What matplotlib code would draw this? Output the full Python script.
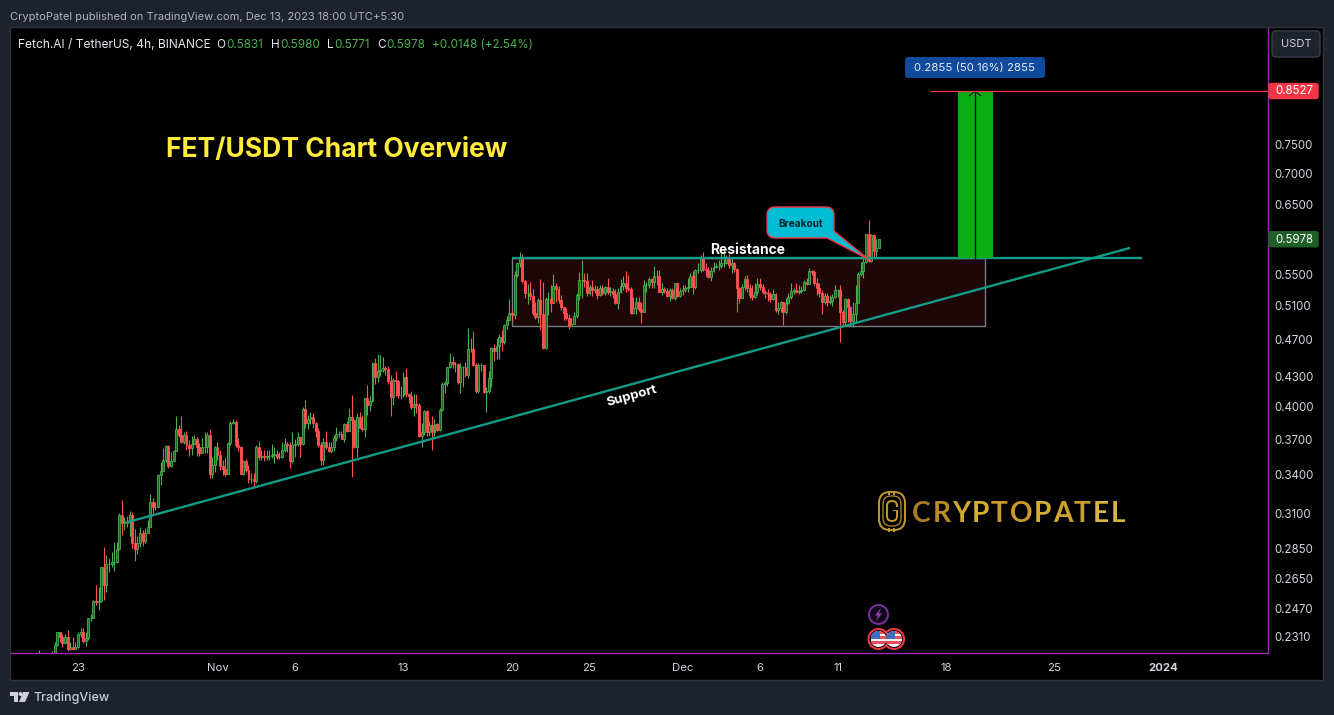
import numpy as np
import pandas as pd
import matplotlib
matplotlib.use("Agg")
import matplotlib.pyplot as plt
import matplotlib.dates as mdates
from matplotlib.patches import FancyBboxPatch, Rectangle, Circle, Polygon, PathPatch
from matplotlib.path import Path
from matplotlib.transforms import Affine2D, IdentityTransform

plt.rcParams['font.family'] = ['Inter', 'DejaVu Sans']

close_a = [.221,.220,.219,.219,.220,.222,.226,.233,.2305,.227,.2305,.224,.225,.224,.225,.232,.233,.228,.230,.241,.241,.251,.2505,.251,.2725,.261,.2745,.2745,.276,.276,.2845,.309,.303,.303,.3035,.309,.2885,.2845,.2885,.296,.290,.296,.300,.3185,.315,.315,.340,.343,.352,.364,.347,.351,.360,.379,.374,.3675,.374,.365,.3625,.366,.370,.363]
high_a = [.2234,.221,.221,.221,.2215,.223,.2277,.233,.233,.232,.232,.2345,.2277,.2305,.2277,.233,.2355,.2355,.233,.241,.2435,.252,.261,.260,.2725,.286,.2805,.2785,.2825,.2895,.2895,.310,.320,.307,.308,.312,.311,.2985,.2935,.300,.298,.299,.305,.3245,.3215,.3185,.3405,.3505,.3625,.365,.365,.359,.361,.391,.383,.391,.3765,.378,.3695,.373,.374,.372]
low_a = [.219,.218,.217,.217,.218,.220,.222,.2257,.2277,.225,.2267,.223,.2234,.224,.224,.2245,.2305,.227,.2257,.229,.2395,.241,.249,.246,.2506,.2518,.2568,.2693,.2725,.270,.275,.284,.294,.298,.300,.2935,.285,.2765,.281,.286,.2866,.289,.297,.300,.310,.3124,.3147,.332,.346,.3505,.3455,.346,.3505,.360,.3724,.3667,.3658,.3607,.3556,.3565,.3658,.3556]

close_b = [.358,.363,.363,.374,.341,.348,.363,.3565,.347,.3445,.341,.367,.385,.386,.365,.363,.341,.351,.344,.3365,.3365,.335,.363,.355,.3555,.355,.3555,.356,.3565,.357,.355,.355,.361,.366,.365,.351,.365,.366,.372,.366,.398,.385,.389,.390,.385,.3775,.365,.352,.3675,.363,.360,.363,.371,.375,.375,.370,.384,.3775,.390,.388,.363,.390,.380,.379,.4085,.402]
high_b = [.367,.371,.3765,.3765,.379,.355,.364,.368,.361,.352,.355,.3675,.387,.389,.388,.371,.364,.352,.353,.348,.3415,.3415,.365,.3685,.361,.361,.361,.361,.366,.3635,.361,.359,.3675,.371,.368,.3675,.3765,.370,.3765,.373,.400,.407,.392,.395,.394,.386,.380,.3675,.371,.3775,.3675,.3675,.374,.381,.378,.3775,.385,.387,.399,.4115,.388,.394,.395,.392,.4085,.4215]
low_b = [.356,.358,.358,.358,.337,.337,.342,.352,.344,.340,.339,.341,.365,.384,.3635,.360,.341,.340,.342,.3335,.3335,.330,.3335,.352,.352,.351,.352,.352,.354,.350,.353,.353,.354,.359,.359,.3455,.350,.355,.364,.355,.365,.380,.379,.384,.380,.372,.3635,.348,.348,.3615,.359,.358,.360,.369,.372,.370,.3675,.3765,.3775,.338,.3625,.355,.380,.378,.372,.392]

close_c = [.4055,.444,.4295,.436,.437,.439,.438,.4255,.410,.4265,.4255,.4115,.4115,.4295,.4125,.4105,.400,.4025,.4015,.373,.3765,.396,.3765,.383,.3765,.384,.3785,.397,.4225,.4235,.440,.4455,.4435,.4435,.4245,.440,.440,.432,.4595,.4595,.442,.4155,.442,.442,.4145,.4155,.4285,.4605,.457,.463,.473,.467,.4865,.4925,.501,.498,.5485,.5645,.5735,.5405,.5255,.5255,.5215,.501,.496,.517]
high_c = [.411,.4455,.4495,.4545,.453,.451,.441,.441,.432,.429,.436,.427,.421,.435,.439,.414,.416,.413,.4125,.404,.385,.397,.397,.387,.391,.389,.385,.399,.425,.426,.4405,.455,.452,.445,.444,.444,.441,.445,.483,.472,.480,.444,.444,.444,.442,.420,.436,.462,.465,.472,.476,.481,.488,.497,.518,.505,.554,.565,.580,.577,.542,.537,.5395,.530,.514,.5195]
low_c = [.396,.405,.423,.425,.431,.435,.432,.423,.391,.402,.411,.409,.408,.410,.410,.404,.398,.391,.394,.372,.3635,.374,.373,.373,.361,.373,.3775,.3775,.396,.4135,.421,.439,.439,.435,.423,.4135,.420,.430,.429,.456,.441,.4135,.414,.436,.4135,.395,.4135,.420,.446,.449,.449,.457,.465,.482,.4915,.4915,.494,.546,.559,.538,.5195,.5115,.517,.498,.494,.489]

close_d = [.4995,.4605,.518,.518,.513,.534,.5305,.517,.508,.501,.495,.4855,.488,.497,.523,.542,.542,.5405,.5255,.533,.529,.5305,.523,.532,.5255,.533,.5265,.528,.524,.513,.5265,.534,.538,.532,.5305,.501,.507,.514,.506,.502,.5355,.5355,.543,.5395,.547,.547,.5265,.5305,.528,.5215,.529,.519,.538,.5215,.528,.529,.532,.533,.547,.533,.555,.555,.5735,.5565,.555,.546]
high_d = [.5435,.5395,.5205,.5265,.536,.550,.538,.534,.523,.5075,.5075,.500,.495,.502,.525,.5525,.569,.551,.551,.536,.542,.536,.534,.536,.536,.534,.545,.533,.532,.5305,.532,.5435,.5475,.554,.549,.533,.5205,.5205,.5205,.514,.542,.5395,.546,.545,.5605,.555,.555,.5385,.533,.532,.532,.532,.5385,.5385,.532,.536,.536,.545,.551,.554,.557,.565,.575,.580,.565,.559]
low_d = [.481,.4595,.4595,.498,.502,.513,.514,.513,.5045,.4925,.4925,.482,.487,.490,.495,.517,.5195,.533,.522,.523,.522,.5255,.518,.522,.523,.523,.524,.522,.5195,.5115,.5055,.5255,.529,.5265,.528,.4995,.500,.4995,.5035,.489,.502,.5265,.532,.532,.532,.536,.5265,.523,.5255,.5205,.516,.518,.517,.5205,.5205,.523,.5265,.5265,.533,.524,.5305,.551,.5525,.554,.5475,.545]

close_e = [.5535,.559,.5605,.5605,.5645,.5645,.573,.562,.5645,.5565,.532,.519,.533,.5435,.532,.523,.5205,.5265,.537,.533,.5265,.5255,.524,.518,.524,.5045,.507,.514,.502,.513,.5205,.528,.529,.5265,.528,.529,.5395,.537,.554,.5525,.538,.532,.5255,.514,.522,.514,.516,.5205,.529,.529,.502,.490,.518,.508,.4915,.500,.513,.550,.554,.566,.605,.567,.604,.581,.585,.5978]
high_e = [.559,.5665,.565,.569,.580,.582,.576,.577,.5735,.5665,.558,.533,.537,.5475,.549,.537,.536,.5385,.545,.545,.537,.529,.530,.5265,.530,.525,.514,.516,.514,.5195,.525,.5385,.532,.5385,.536,.534,.542,.545,.558,.555,.555,.545,.5385,.529,.525,.525,.523,.524,.536,.530,.536,.5045,.5195,.5195,.510,.514,.536,.5525,.5665,.572,.606,.626,.605,.606,.598,.598]
low_e = [.541,.5525,.558,.555,.558,.559,.563,.558,.551,.5525,.502,.513,.5195,.529,.5265,.5195,.517,.5195,.523,.529,.524,.5195,.516,.514,.517,.502,.500,.502,.4865,.500,.5115,.518,.524,.525,.524,.525,.528,.536,.537,.549,.536,.523,.5205,.500,.5115,.510,.5115,.509,.5195,.5205,.467,.486,.486,.490,.4855,.484,.490,.523,.5475,.545,.565,.5665,.5665,.572,.572,.585]

closes = np.array(close_a + close_b + close_c + close_d + close_e)
highs = np.array(high_a + high_b + high_c + high_d + high_e)
lows = np.array(low_a + low_b + low_c + low_d + low_e)
opens = np.r_[closes[0], closes[:-1]]

price_ticks = [.7500, .7000, .6500, .5500, .5100, .4700, .4300, .4000, .3700, .3400, .3100, .2850, .2650, .2470, .2310]
date_ticks = ['2023-10-23', '2023-11-01', '2023-11-06', '2023-11-13', '2023-11-20', '2023-11-25', '2023-12-01',
              '2023-12-06', '2023-12-11', '2023-12-18', '2023-12-25', '2024-01-01']
date_labels = ['23', 'Nov', '6', '13', '20', '25', 'Dec', '6', '11', '18', '25', '2024']

target_price = .8527
last_price = .5978
resistance = .571
box_floor = .4855
support_start, support_end = .303, .5855

W, H = 1334, 715
BG, GREEN, RED = '#1e222d', '#4caf50', '#ff5252'
TXT = '#d1d4dc'
fig = plt.figure(figsize=(W / 100, H / 100), dpi=100, facecolor=BG)
PX = Affine2D().scale(1, -1).translate(0, H)  # pixel coordinates, y down


def T(x, y, s, **kw):
    return fig.text(x / W, 1 - y / H, s, **kw)


def add(p):
    fig.add_artist(p)
    return p


# Black chart panel with its border
add(Rectangle((10, 27), 1313, 653, transform=PX, fc='black', ec='#2f333e', lw=1, zorder=0))

ax = fig.add_axes([11 / W, 1 - 653 / H, (1268 - 11) / W, (653 - 28) / H], facecolor='none')
ax.set_yscale('log')
base = mdates.date2num(pd.Timestamp('2023-10-23'))
ax.set_xlim(base - 4.32, base + 76.77)
ax.set_ylim(.2218, .9917)


def day(n):
    return base + n


t = mdates.date2num(pd.date_range('2023-10-20 12:00', periods=len(closes), freq='4h'))
up = closes >= opens
w = 0.125
ax.vlines(t[up], lows[up], highs[up], color=GREEN, lw=0.8, zorder=3)
ax.vlines(t[~up], lows[~up], highs[~up], color=RED, lw=0.8, zorder=3)
ax.bar(t[up], (closes - opens)[up], bottom=opens[up], width=w, fc='#1d6a23', ec=GREEN, lw=0.6, zorder=4)
ax.bar(t[~up], (opens - closes)[~up], bottom=closes[~up], width=w, fc=RED, ec=RED, lw=0.6, zorder=4)

# Range box, trend lines and projection
ax.add_patch(Rectangle((day(28), box_floor), 30.5, resistance - box_floor, fc=(0.95, 0.21, 0.27, 0.13), ec='none', zorder=1))
ax.add_patch(Rectangle((day(28), box_floor), 30.5, resistance - box_floor, fc='none', ec='#787b86', lw=1, zorder=2))
ax.plot([day(28), day(68.65)], [resistance, resistance], color='#119c87', lw=1.7, zorder=5, solid_capstyle='butt')
ax.plot([day(3.03), day(67.87)], [support_start, support_end], color='#119c87', lw=1.7, zorder=5, solid_capstyle='butt')
ax.add_patch(Rectangle((day(56.77), resistance), 2.26, target_price - resistance, fc='#0aad14', ec='none', zorder=5))
ax.plot([day(57.87)] * 2, [resistance, target_price], color='black', lw=0.9, zorder=6)
ax.plot([day(57.5), day(57.87), day(58.24)], [.843, target_price, .843], color='black', lw=0.7, zorder=6)
ax.plot([day(54.97), day(76.77)], [target_price] * 2, color='#f23645', lw=0.9, zorder=6, solid_capstyle='butt')

ax.text(day(43.2), .5825, 'Resistance', color='white', fontsize=10, fontweight='bold', ha='center', va='center', zorder=8)
ax.text(day(35.7), .4105, 'Support', color='white', fontsize=9.5, fontweight='bold', ha='center', va='center',
        rotation=15.4, rotation_mode='anchor', zorder=8)

# Axes
for s in ('top', 'left'):
    ax.spines[s].set_visible(False)
for s in ('right', 'bottom'):
    ax.spines[s].set_color('#9c27b0')
    ax.spines[s].set_linewidth(1)
ax.yaxis.tick_right()
ax.minorticks_off()
ax.set_yticks(price_ticks)
ax.set_yticklabels([f'{p:.4f}' for p in price_ticks])
ax.tick_params(axis='y', length=0, pad=4.8, labelsize=8.3, labelcolor=TXT, which='both')
ax.yaxis.set_minor_locator(matplotlib.ticker.NullLocator())
ax.set_xticks(mdates.date2num(pd.to_datetime(date_ticks)))
ax.set_xticklabels(date_labels)
ax.tick_params(axis='x', length=0, pad=7, labelsize=8.2, labelcolor=TXT)
ax.get_xticklabels()[-1].set_fontweight('bold')

fig.canvas.draw()


def tag(price, color, label):
    y = ax.transData.transform((0, price))[1]
    add(FancyBboxPatch((1269, y - 7.5), 49, 15, boxstyle='round,pad=0,rounding_size=2', transform=IdentityTransform(),
                       fc=color, ec=color, lw=1, zorder=9, clip_on=False))
    fig.text(1294.5 / W, (y - 0.3) / H, label, color='white', fontsize=8.3, ha='center', va='center', zorder=10)


tag(target_price, '#f23645', f'{target_price:.4f}')
tag(last_price, '#1f5f28', f'{last_price:.4f}')

# USDT button
add(FancyBboxPatch((1272, 31), 48, 26, boxstyle='round,pad=0,rounding_size=4', transform=PX, fc=BG, ec='#3a3e4a', lw=1, zorder=5))
T(1296, 44, 'USDT', color=TXT, fontsize=8, ha='center', va='center', zorder=6)

# Header and legend
T(10, 17, 'CryptoPatel published on TradingView.com, Dec 13, 2023 18:00 UTC+5:30', color='#b2b5be', fontsize=8.0, va='center')
T(17.5, 45, 'Fetch.AI / TetherUS, 4h, BINANCE', color='#e6e8ee', fontsize=8.6, va='center')
for x, s, c in [(216, 'O', '#e6e8ee'), (226, '0.5831', GREEN), (271, 'H', '#e6e8ee'), (280, '0.5980', GREEN),
                (327, 'L', '#e6e8ee'), (334, '0.5771', GREEN), (377.5, 'C', '#e6e8ee'), (386, '0.5978', GREEN),
                (432, '+0.0148 (+2.54%)', GREEN)]:
    T(x, 45, s, color=c, fontsize=8.4, va='center')

# Price-move label
add(FancyBboxPatch((905, 57), 140, 21, boxstyle='round,pad=0,rounding_size=3', transform=PX, fc='#0f4a9c', ec='none', zorder=7))
T(975, 67.5, '0.2855 (50.16%) 2855', color='#e8eaf0', fontsize=8.2, ha='center', va='center', zorder=8)

# Title
T(166, 150, 'FET/USDT Chart Overview', color='#ffeb3b', fontsize=19.05, fontweight='bold', va='center', zorder=8)

# Breakout callout
r = 8
verts = [(767 + r, 207), (826, 207), (834, 207), (834, 215), (834, 231), (868, 259), (827, 238), (775, 238), (767, 238),
         (767, 230), (767, 215), (767, 207), (775, 207), (775, 207)]
codes = [Path.MOVETO, Path.LINETO, Path.CURVE3, Path.CURVE3, Path.LINETO, Path.LINETO, Path.LINETO, Path.LINETO,
         Path.CURVE3, Path.CURVE3, Path.LINETO, Path.CURVE3, Path.CURVE3, Path.CLOSEPOLY]
add(PathPatch(Path(verts, codes), transform=PX, fc='#00bcd4', ec='#f23645', lw=1, zorder=7))
T(800.5, 223.5, 'Breakout', color='#06222a', fontsize=7.3, fontweight='bold', ha='center', va='center', zorder=8)

# Watermark
gold = ['#ab7c22', '#b98b2a', '#d0a530', '#d8b030', '#c89a2a', '#c89a2a', '#d4ad36', '#cfa530', '#c8a030', '#d8b440', '#d8b440']
renderer = fig.canvas.get_renderer()
xpos = 912
for ch, c in zip('CRYPTOPATEL', gold):
    tx = T(xpos, 522, ch, color=c, fontsize=20.2, fontweight='bold', family=['Lato', 'DejaVu Sans'], va='baseline', zorder=8)
    xpos += tx.get_window_extent(renderer).width + 1.7
G = '#c39a32'
add(FancyBboxPatch((879, 492), 26, 38, boxstyle='round,pad=0,rounding_size=11', transform=PX, fc='none', ec=G, lw=1.4, zorder=8))
add(FancyBboxPatch((883, 496), 18, 30, boxstyle='round,pad=0,rounding_size=8', transform=PX, fc='none', ec='#a87e26', lw=1, zorder=8))
add(FancyBboxPatch((887, 501), 10, 20, boxstyle='round,pad=0,rounding_size=5', transform=PX, fc='none', ec=G, lw=1.4, zorder=8))
add(Rectangle((892, 507), 8, 3, transform=PX, fc='black', ec='none', zorder=9))
add(Rectangle((893, 510), 5, 1.4, transform=PX, fc=G, ec='none', zorder=9))
for xx in (888, 893):
    add(Rectangle((xx, 490.5), 2, 4, transform=PX, fc=G, ec='none', zorder=9))
    add(Rectangle((xx, 527.5), 2, 4, transform=PX, fc=G, ec='none', zorder=9))

# Event markers
add(Circle((878.5, 614.5), 9.5, transform=PX, fc='#150a1c', ec='#7b2fa0', lw=1.4, zorder=8))
add(Polygon([(881, 608), (875, 615.5), (878, 615.5), (876, 621), (882, 613.5), (879, 613.5)], transform=PX, fc='#8e3fb5', ec='none', zorder=9))
for cx in (894, 878.5):
    add(Circle((cx, 639), 10, transform=PX, fc='black', ec='#f23645', lw=1.5, zorder=8))
    clip = Circle((cx, 639), 8, transform=PX)
    base_c = add(Rectangle((cx - 8, 631), 16, 16, transform=PX, fc='#f4f4f4', ec='none', zorder=9))
    base_c.set_clip_path(clip)
    for yy in (631, 636, 641):
        st = add(Rectangle((cx - 8, yy), 16, 2.6, transform=PX, fc='#e8505b', ec='none', zorder=9))
        st.set_clip_path(clip)
    ca = add(Rectangle((cx - 8, 631), 9, 8, transform=PX, fc='#3f6fc4', ec='none', zorder=10))
    ca.set_clip_path(clip)

# TradingView footer
LG = '#cdd0d8'
add(Polygon([(10, 692), (18, 692), (18, 702), (14, 702), (14, 696), (10, 696)], transform=PX, fc=LG, ec='none'))
add(Circle((20.5, 694), 2, transform=PX, fc=LG, ec='none'))
add(Polygon([(23, 692), (29.5, 692), (25, 702), (19, 702)], transform=PX, fc=LG, ec='none'))
T(33, 697.5, 'TradingView', color='#c8ccd4', fontsize=9.0, fontweight='medium', va='center')

fig.savefig('out.png', dpi=100, facecolor=BG)
